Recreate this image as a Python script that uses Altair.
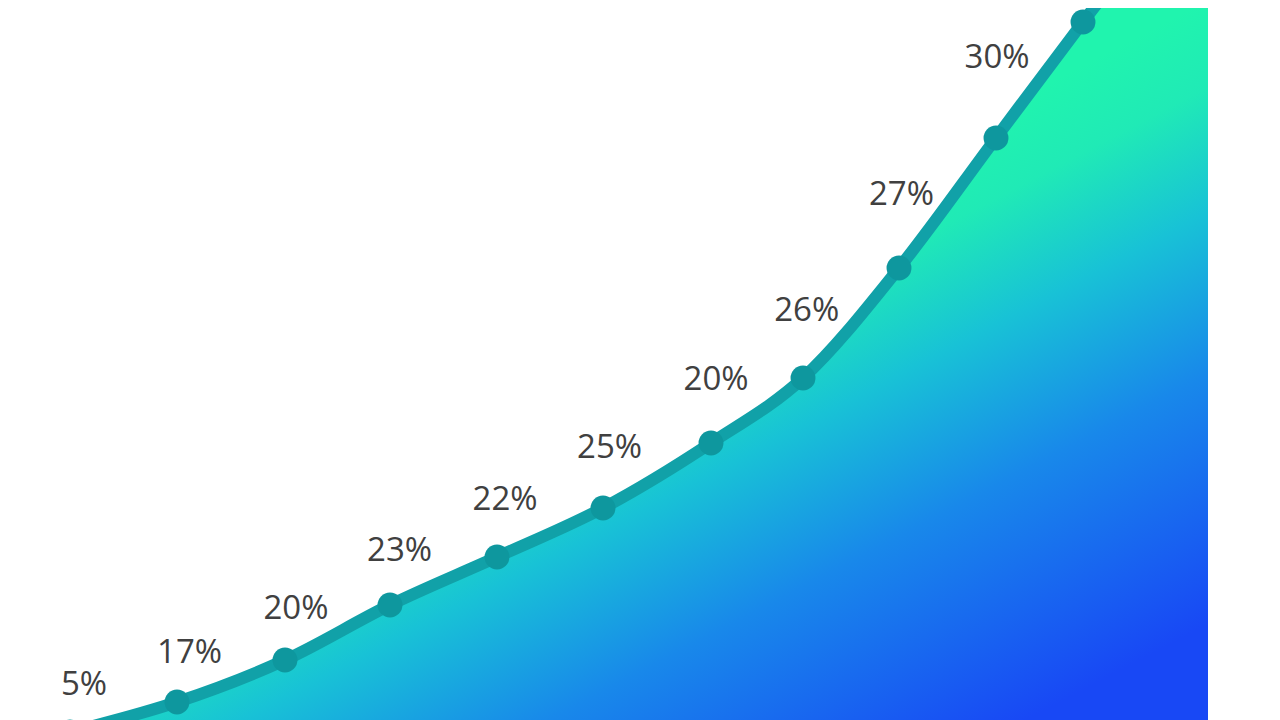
import altair as alt
import pandas as pd

# values (x: horizontal position, h: height of the curve)
xs = [70, 177, 285, 390, 497, 603, 711, 803, 899, 996, 1083, 1208]
hs = [-12, 18, 60, 115, 163, 212, 277, 342, 452, 582, 698, 860]
labels = ["5%", "17%", "20%", "23%", "22%", "25%", "20%", "26%", "27%", "30%", "", ""]

df = pd.DataFrame({"x": xs, "h": hs, "label": labels})

W, H = 1264, 712
xsc = alt.Scale(domain=[8, 1272], nice=False, zero=False)
ysc = alt.Scale(domain=[0, 712], nice=False, zero=False)

grad = {
    "gradient": "linear",
    "x1": 0.3933, "y1": 0.5750,
    "x2": 0.7273, "y2": 1.0633,
    "stops": [
        {"offset": 0.0, "color": "#20f4ae"},
        {"offset": 0.14, "color": "#20eab6"},
        {"offset": 0.34, "color": "#18c2d6"},
        {"offset": 0.60, "color": "#1888ea"},
        {"offset": 1.0, "color": "#1848f5"},
    ],
}

base = alt.Chart(df).encode(
    x=alt.X("x:Q", scale=xsc, axis=None),
)

area = base.mark_area(clip=True, color=grad, interpolate="monotone").encode(
    y=alt.Y("h:Q", scale=ysc, axis=None),
    y2=alt.value(H),
)

line = base.mark_line(clip=True, color="#11a1a8", strokeWidth=12,
                      interpolate="monotone", strokeCap="round").encode(
    y=alt.Y("h:Q", scale=ysc, axis=None),
)

points = base.mark_circle(clip=True, color="#0e979e", opacity=1, size=620).encode(
    y=alt.Y("h:Q", scale=ysc, axis=None),
)

text = alt.Chart(df).transform_calculate(
    lh="datum.h + 48 + 0.055 * datum.h",
    lx="datum.x + 15 - 0.014 * datum.x",
).mark_text(
    clip=True, font="Open Sans", fontSize=33, color="#404040",
    baseline="middle", align="center"
).encode(
    x=alt.X("lx:Q", scale=xsc, axis=None),
    y=alt.Y("lh:Q", scale=ysc, axis=None),
    text="label:N",
)

chart = alt.layer(area, line, points, text).properties(
    width=W, height=H, padding=0, autosize="none", background="white"
).configure_view(strokeWidth=0)

chart.save("out.html", embed_options={"renderer": "svg", "actions": False})
